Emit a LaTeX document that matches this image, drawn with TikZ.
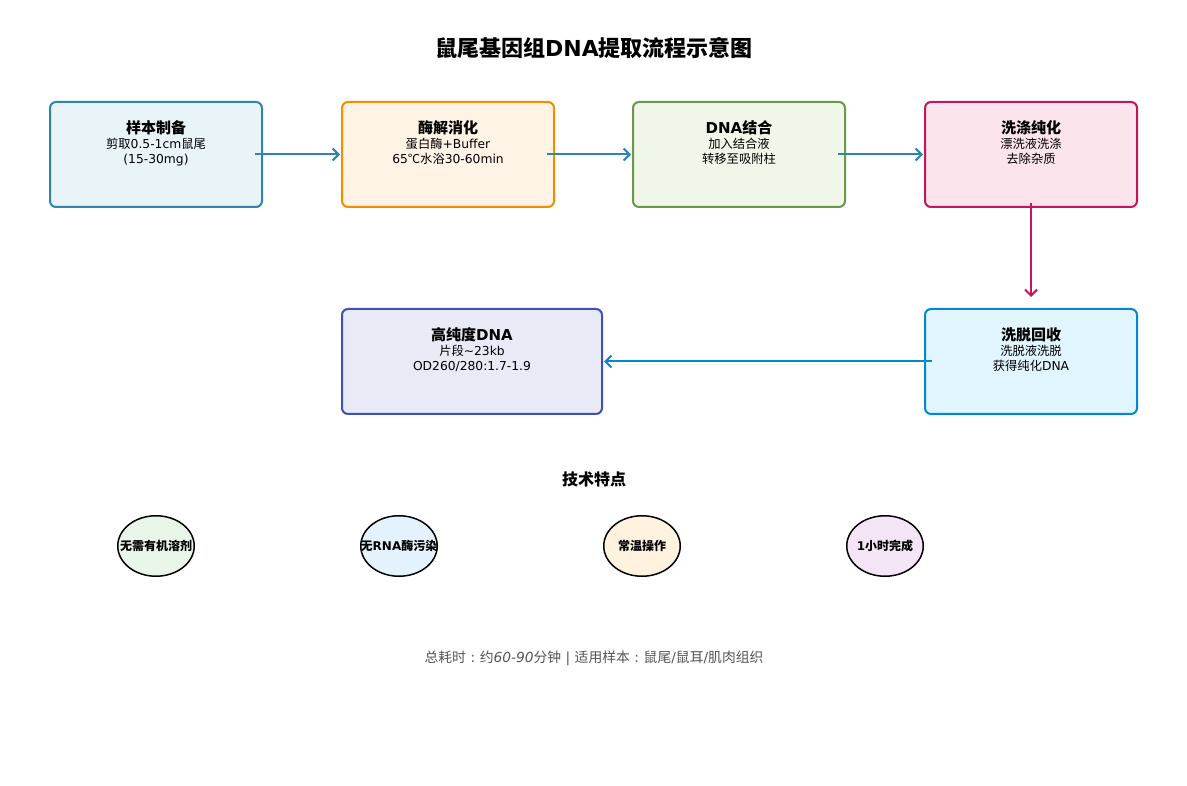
\documentclass[tikz,border=0pt]{standalone}
\usepackage{fontspec}
\setmainfont{DejaVu Sans}
\newfontfamily\cjk{Noto Sans CJK SC}
\newcommand\zh[1]{{\cjk #1}}
\newcommand\fwcolon{\makebox[1em][c]{:}}
\usetikzlibrary{arrows.meta,shapes.geometric}
\definecolor{cA}{HTML}{2E86AB}\definecolor{fA}{HTML}{E8F4F8}
\definecolor{cB}{HTML}{F18F01}\definecolor{fB}{HTML}{FFF3E6}
\definecolor{cC}{HTML}{6A994E}\definecolor{fC}{HTML}{F0F7E8}
\definecolor{cD}{HTML}{C2185B}\definecolor{fD}{HTML}{FCE4EC}
\definecolor{cE}{HTML}{0288D1}\definecolor{fE}{HTML}{E1F5FE}
\definecolor{cF}{HTML}{3F51B5}\definecolor{fF}{HTML}{E8EAF6}
\definecolor{g1}{HTML}{E8F5E9}\definecolor{g2}{HTML}{E3F2FD}
\definecolor{g3}{HTML}{FFF3E0}\definecolor{g4}{HTML}{F3E5F5}
\definecolor{foot}{HTML}{555555}
\begin{document}
\begin{tikzpicture}[x=1pt,y=-1pt,
  stepbox/.style={draw, rounded corners=6pt, line width=2pt, minimum width=212pt, minimum height=105pt, inner sep=0pt},
  ttl/.style={anchor=base, inner sep=0pt, font=\fontsize{15}{18}\selectfont\bfseries},
  sub/.style={anchor=base, inner sep=0pt, font=\fontsize{12.3}{15}\selectfont},
  flow/.style={line width=2pt, -{Straight Barb[length=6pt,width=12pt,line width=2pt]}},
  feat/.style={ellipse, draw, line width=1.5pt, minimum width=76.5pt, minimum height=60.5pt, inner sep=0pt},
  ftxt/.style={inner sep=0pt, font=\fontsize{12}{14}\selectfont\bfseries}
]
\useasboundingbox (0,0) rectangle (1187,786);
\fill[white] (0,0) rectangle (1187,786);

\node[anchor=base, inner sep=0pt, font=\fontsize{22}{26}\selectfont\bfseries] (title) at (594,56.2) {\zh{鼠尾基因组}DNA\zh{提取流程示意图}};

% boxes
\node[stepbox, draw=cA, fill=fA] (b1) at (156,154.5) {};
\node[stepbox, draw=cB, fill=fB] (b2) at (448,154.5) {};
\node[stepbox, draw=cC, fill=fC] (b3) at (739,154.5) {};
\node[stepbox, draw=cD, fill=fD] (b4) at (1031,154.5) {};
\node[stepbox, draw=cE, fill=fE] (b5) at (1031,361.5) {};
\node[stepbox, draw=cF, fill=fF, minimum width=260pt] (b6) at (472,361.5) {};

% texts
\node[ttl] (b1t) at (156,133.7) {\zh{样本制备}};
\node[sub] (b1a) at (156,148.8) {\zh{剪取}0.5-1cm\zh{鼠尾}};
\node[sub] (b1b) at (156,163.8) {(15-30mg)};

\node[ttl] (b2t) at (448,133.7) {\zh{酶解消化}};
\node[sub] (b2a) at (448,148.8) {\zh{蛋白酶}+Buffer};
\node[sub] (b2b) at (448,163.8) {65\zh{℃水浴}30-60min};

\node[ttl] (b3t) at (739,133.7) {DNA\zh{结合}};
\node[sub] (b3a) at (739,148.8) {\zh{加入结合液}};
\node[sub] (b3b) at (739,163.8) {\zh{转移至吸附柱}};

\node[ttl] (b4t) at (1031,133.7) {\zh{洗涤纯化}};
\node[sub] (b4a) at (1031,148.8) {\zh{漂洗液洗涤}};
\node[sub] (b4b) at (1031,163.8) {\zh{去除杂质}};

\node[ttl] (b5t) at (1031,340.7) {\zh{洗脱回收}};
\node[sub] (b5a) at (1031,355.8) {\zh{洗脱液洗脱}};
\node[sub] (b5b) at (1031,370.8) {\zh{获得纯化}DNA};

\node[ttl] (b6t) at (472,340.7) {\zh{高纯度}DNA};
\node[sub] (b6a) at (472,355.8) {\zh{片段}\textasciitilde 23kb};
\node[sub] (b6b) at (472,370.8) {OD260/280:1.7-1.9};

% arrows
\draw[flow, cA] ([xshift=-8pt]b1.east) -- ([xshift=-1pt]b2.west);
\draw[flow, cA] ([xshift=-8pt]b2.east) -- ([xshift=-1pt]b3.west);
\draw[flow, cA] ([xshift=-8pt]b3.east) -- ([xshift=-1pt]b4.west);
\draw[flow, cD] ([yshift=5pt]b4.south) -- ([yshift=11pt]b5.north);
\draw[flow, cE] ([xshift=8pt]b5.west) -- ([xshift=1pt]b6.east);

% features
\node[anchor=base, inner sep=0pt, font=\fontsize{16}{18}\selectfont\bfseries] (feat) at (594,485) {\zh{技术特点}};
\node[feat, fill=g1] (e1) at (156,546) {};
\node[feat, fill=g2] (e2) at (399,546) {};
\node[feat, fill=g3] (e3) at (642,546) {};
\node[feat, fill=g4] (e4) at (885,546) {};
\node[ftxt] (e1t) at (e1) {\zh{无需有机溶剂}};
\node[ftxt] (e2t) at (e2) {\zh{无}RNA\zh{酶污染}};
\node[ftxt] (e3t) at (e3) {\zh{常温操作}};
\node[ftxt] (e4t) at (e4) {1\zh{小时完成}};

\node[anchor=base, inner sep=0pt, text=foot, font=\fontsize{13.8}{16}\selectfont] (footer) at (594,662.2) {\zh{总耗时}\fwcolon\zh{约}\textit{60-90}\zh{分钟} | \zh{适用样本}\fwcolon\zh{鼠尾}/\zh{鼠耳}/\zh{肌肉组织}};
\end{tikzpicture}
\end{document}
